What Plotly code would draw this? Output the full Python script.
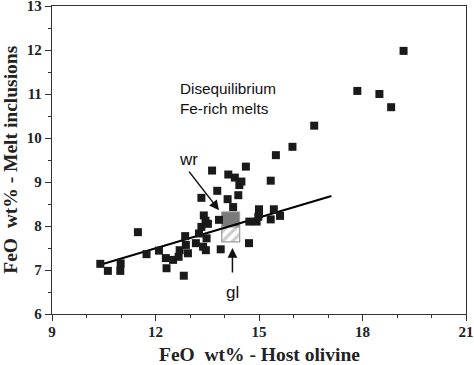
import plotly.graph_objects as go

# Melt inclusion data: FeO in host olivine vs FeO in melt inclusions
olivine_feo = [10.40, 10.62, 10.99, 10.98, 11.49, 11.74, 12.10, 12.30, 12.32, 12.51,
               12.67, 12.70, 12.82, 12.86, 12.88, 12.94, 13.17, 13.26, 13.33, 13.38,
               13.46, 13.48, 13.40, 13.45, 13.52, 13.84, 13.89, 13.33, 13.64, 13.79,
               14.09, 14.11, 14.30, 14.43, 14.49, 14.40, 14.25, 14.62, 14.71, 14.72,
               14.98, 15.00, 15.34, 15.43, 15.61, 14.93, 15.00, 15.34, 15.49, 15.97,
               16.60, 17.85, 18.49, 18.83, 19.19]
melt_feo = [7.14, 6.98, 7.15, 6.98, 7.86, 7.36, 7.44, 7.27, 7.04, 7.23,
            7.30, 7.45, 6.87, 7.77, 7.57, 7.38, 7.61, 7.83, 7.98, 7.53,
            7.45, 7.72, 8.24, 8.12, 8.05, 8.14, 7.47, 8.64, 9.26, 8.80,
            8.61, 9.17, 9.10, 8.93, 9.01, 8.70, 8.43, 9.35, 7.61, 8.10,
            8.21, 8.38, 8.15, 8.38, 8.23, 8.10, 8.28, 9.03, 9.61, 9.80,
            10.28, 11.07, 11.00, 10.70, 11.98]

# Regression line end points
fit_x = [10.40, 17.10]
fit_y = [7.12, 8.68]

# Whole rock (wr) and glass (gl) composition boxes
wr_x = [13.92, 14.44]
wr_y = [7.98, 8.32]
gl_x = [13.92, 14.44]
gl_y = [7.64, 7.98]

x_ticks = [9, 12, 15, 18, 21]
y_ticks = [6, 7, 8, 9, 10, 11, 12, 13]

fig = go.Figure()

fig.add_trace(go.Scatter(x=fit_x, y=fit_y, mode="lines",
                         line=dict(color="black", width=2), showlegend=False))

fig.add_trace(go.Scatter(x=olivine_feo, y=melt_feo, mode="markers",
                         marker=dict(symbol="square", size=8, color="#1a1a1a",
                                     line=dict(width=0)),
                         showlegend=False))

fig.add_trace(go.Bar(x=[(wr_x[0] + wr_x[1]) / 2], y=[wr_y[1] - wr_y[0]], base=[wr_y[0]],
                     width=[wr_x[1] - wr_x[0]],
                     marker=dict(color="#7a7a7a", line=dict(color="#9a9a9a", width=1)),
                     showlegend=False))
fig.add_trace(go.Bar(x=[(gl_x[0] + gl_x[1]) / 2], y=[gl_y[1] - gl_y[0]], base=[gl_y[0]],
                     width=[gl_x[1] - gl_x[0]],
                     marker=dict(color="white", line=dict(color="#9a9a9a", width=1.2),
                                 pattern=dict(shape="/", fgcolor="#9a9a9a", bgcolor="white",
                                              size=7, solidity=0.45)),
                     showlegend=False))

titlefont = dict(family="Liberation Serif, Times New Roman", size=19.5, color="#222", weight="bold")

annots = [
    dict(x=12.65, y=10.89, text="Disequilibrium<br>Fe-rich melts", showarrow=False,
         xanchor="left", yanchor="middle", align="left",
         font=dict(family="Liberation Sans, Arial", size=15.3, color="#111")),
    dict(x=12.95, y=9.52, text="wr", showarrow=False, xanchor="center", yanchor="middle",
         font=dict(family="Liberation Sans, Arial", size=17, color="#111")),
    dict(x=13.84, y=8.36, ax=12.94, ay=9.27, axref="x", ayref="y", text="",
         showarrow=True, arrowhead=2, arrowsize=1.3, arrowwidth=1.5, arrowcolor="#111"),
    dict(x=14.23, y=6.50, text="gl", showarrow=False, xanchor="center", yanchor="middle",
         font=dict(family="Liberation Sans, Arial", size=17, color="#111")),
    dict(x=14.23, y=7.50, ax=14.23, ay=6.91, axref="x", ayref="y", text="",
         showarrow=True, arrowhead=2, arrowsize=1.3, arrowwidth=1.5, arrowcolor="#111"),
    # axis titles
    dict(xref="paper", yref="paper", x=0.5, y=-0.133, text="FeO  wt% - Host olivine",
         showarrow=False, xanchor="center", yanchor="middle", font=titlefont),
    dict(xref="paper", yref="paper", x=-0.102, y=0.5, text="FeO  wt% - Melt inclusions",
         showarrow=False, xanchor="center", yanchor="middle", textangle=-90, font=titlefont),
]

tickfont = dict(family="Liberation Serif, Times New Roman", size=15, color="#222", weight="bold")

fig.update_layout(
    width=474, height=365,
    margin=dict(l=52, r=8, t=6, b=51),
    paper_bgcolor="white", plot_bgcolor="white",
    annotations=annots,
    barmode="overlay",
    xaxis=dict(range=[9, 21], tickvals=x_ticks, ticktext=[str(v) for v in x_ticks],
               ticks="outside", ticklen=6, tickwidth=1.2, tickcolor="#333",
               minor=dict(dtick=1, ticks="outside", ticklen=3, tickcolor="#333"),
               showline=True, linecolor="#333", linewidth=1.3, mirror=True,
               showgrid=False, zeroline=False, tickfont=tickfont,
               ticklabeloverflow="allow", ticklabelstandoff=-2, automargin=False),
    yaxis=dict(range=[6, 13], tickvals=y_ticks, ticktext=[str(v) for v in y_ticks],
               ticks="outside", ticklen=6, tickwidth=1.2, tickcolor="#333",
               minor=dict(dtick=0.5, ticks="outside", ticklen=3, tickcolor="#333"),
               showline=True, linecolor="#333", linewidth=1.3, mirror=True,
               showgrid=False, zeroline=False, tickfont=tickfont,
               ticklabeloverflow="allow", automargin=False),
)

fig.write_html("out.html", config={"displayModeBar": False},
               post_script="document.body.style.margin='0';")
